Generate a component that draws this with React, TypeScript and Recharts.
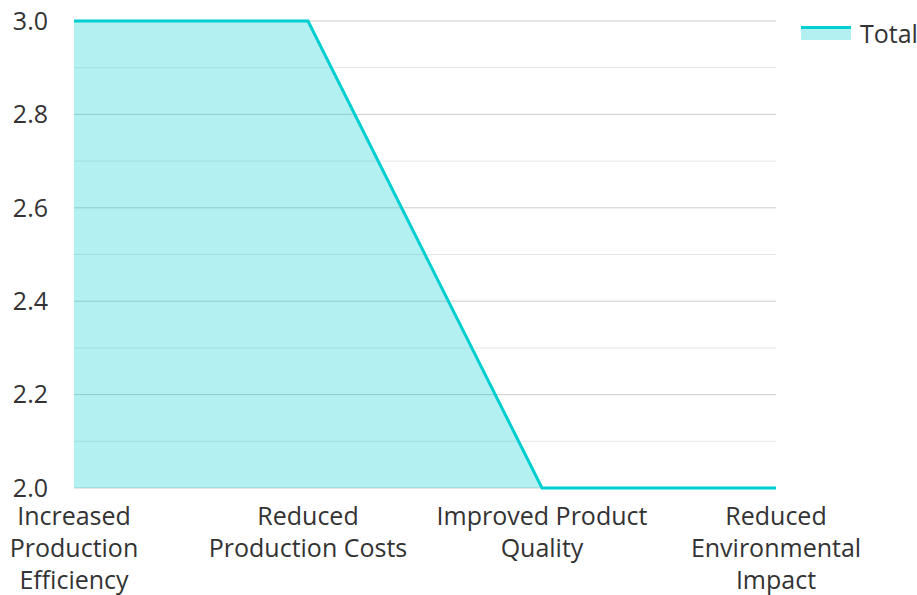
import React from 'react';
import { AreaChart, Area, XAxis, YAxis, CartesianGrid } from 'recharts';

const categories = [
  'Increased Production Efficiency',
  'Reduced Production Costs',
  'Improved Product Quality',
  'Reduced Environmental Impact',
];
const totalValues = [3, 3, 2, 2];
const yTicks = [2.0, 2.2, 2.4, 2.6, 2.8, 3.0];
const yMinorTicks = [2.1, 2.3, 2.5, 2.7, 2.9];
const seriesName = 'Total';

const TEAL = '#00CED1';
const FONT = '"Open Sans", "Noto Sans", sans-serif';
const FS = 25;

const chartData = categories.map((name, i) => ({ name, total: totalValues[i] }));

// greedy wrap, about 16 chars per line
const wrapLabel = (text: string, max = 16) => {
  const lines: string[] = [];
  let cur = '';
  text.split(' ').forEach(word => {
    const next = cur ? cur + ' ' + word : word;
    if (next.length > max && cur) {
      lines.push(cur);
      cur = word;
    } else {
      cur = next;
    }
  });
  if (cur) lines.push(cur);
  return lines;
};

const XTick = (props: any) => {
  const { x, y, payload } = props;
  const lines = wrapLabel(payload.value);
  return (
    <text x={x} y={y} textAnchor="middle" fill="#333" fontSize={FS} fontFamily={FONT}>
      {lines.map((line, i) => (
        <tspan key={i} x={x} dy={i === 0 ? 29 : 32}>
          {line}
        </tspan>
      ))}
    </text>
  );
};

const App: React.FC = () => {
  return (
    <div style={{ position: 'absolute', left: 0, top: 0, width: 917, height: 595, fontFamily: FONT }}>
      <AreaChart
        width={917}
        height={595}
        data={chartData}
        margin={{ top: 21, right: 141, bottom: 0, left: 0 }}
      >
        {/* minor lines first, then the major ones */}
        <CartesianGrid vertical={false} stroke="#e6e6e6" horizontalValues={yMinorTicks} syncWithTicks={false} />
        <CartesianGrid vertical={false} stroke="#cccccc" />
        <XAxis
          dataKey="name"
          axisLine={false}
          tickLine={false}
          interval={0}
          height={107}
          tick={<XTick />}
        />
        <YAxis
          domain={[2, 3]}
          ticks={yTicks}
          width={74}
          axisLine={false}
          tickLine={false}
          tickMargin={20}
          tickFormatter={(v: number) => v.toFixed(1)}
          tick={{ fill: '#333', fontSize: FS, fontFamily: FONT }}
        />
        <Area
          type="linear"
          dataKey="total"
          name={seriesName}
          stroke={TEAL}
          strokeWidth={3}
          fill={TEAL}
          fillOpacity={0.3}
          isAnimationActive={false}
        />
      </AreaChart>

      <div style={{ position: 'absolute', left: 801, top: 19, display: 'flex', alignItems: 'center' }}>
        <div style={{ width: 50, height: 14 }}>
          <div style={{ height: 3, background: TEAL }} />
          <div style={{ height: 11, background: TEAL, opacity: 0.3 }} />
        </div>
        <span style={{ marginLeft: 9, fontSize: FS, color: '#333', lineHeight: '28px' }}>{seriesName}</span>
      </div>
    </div>
  );
};

export default App;
